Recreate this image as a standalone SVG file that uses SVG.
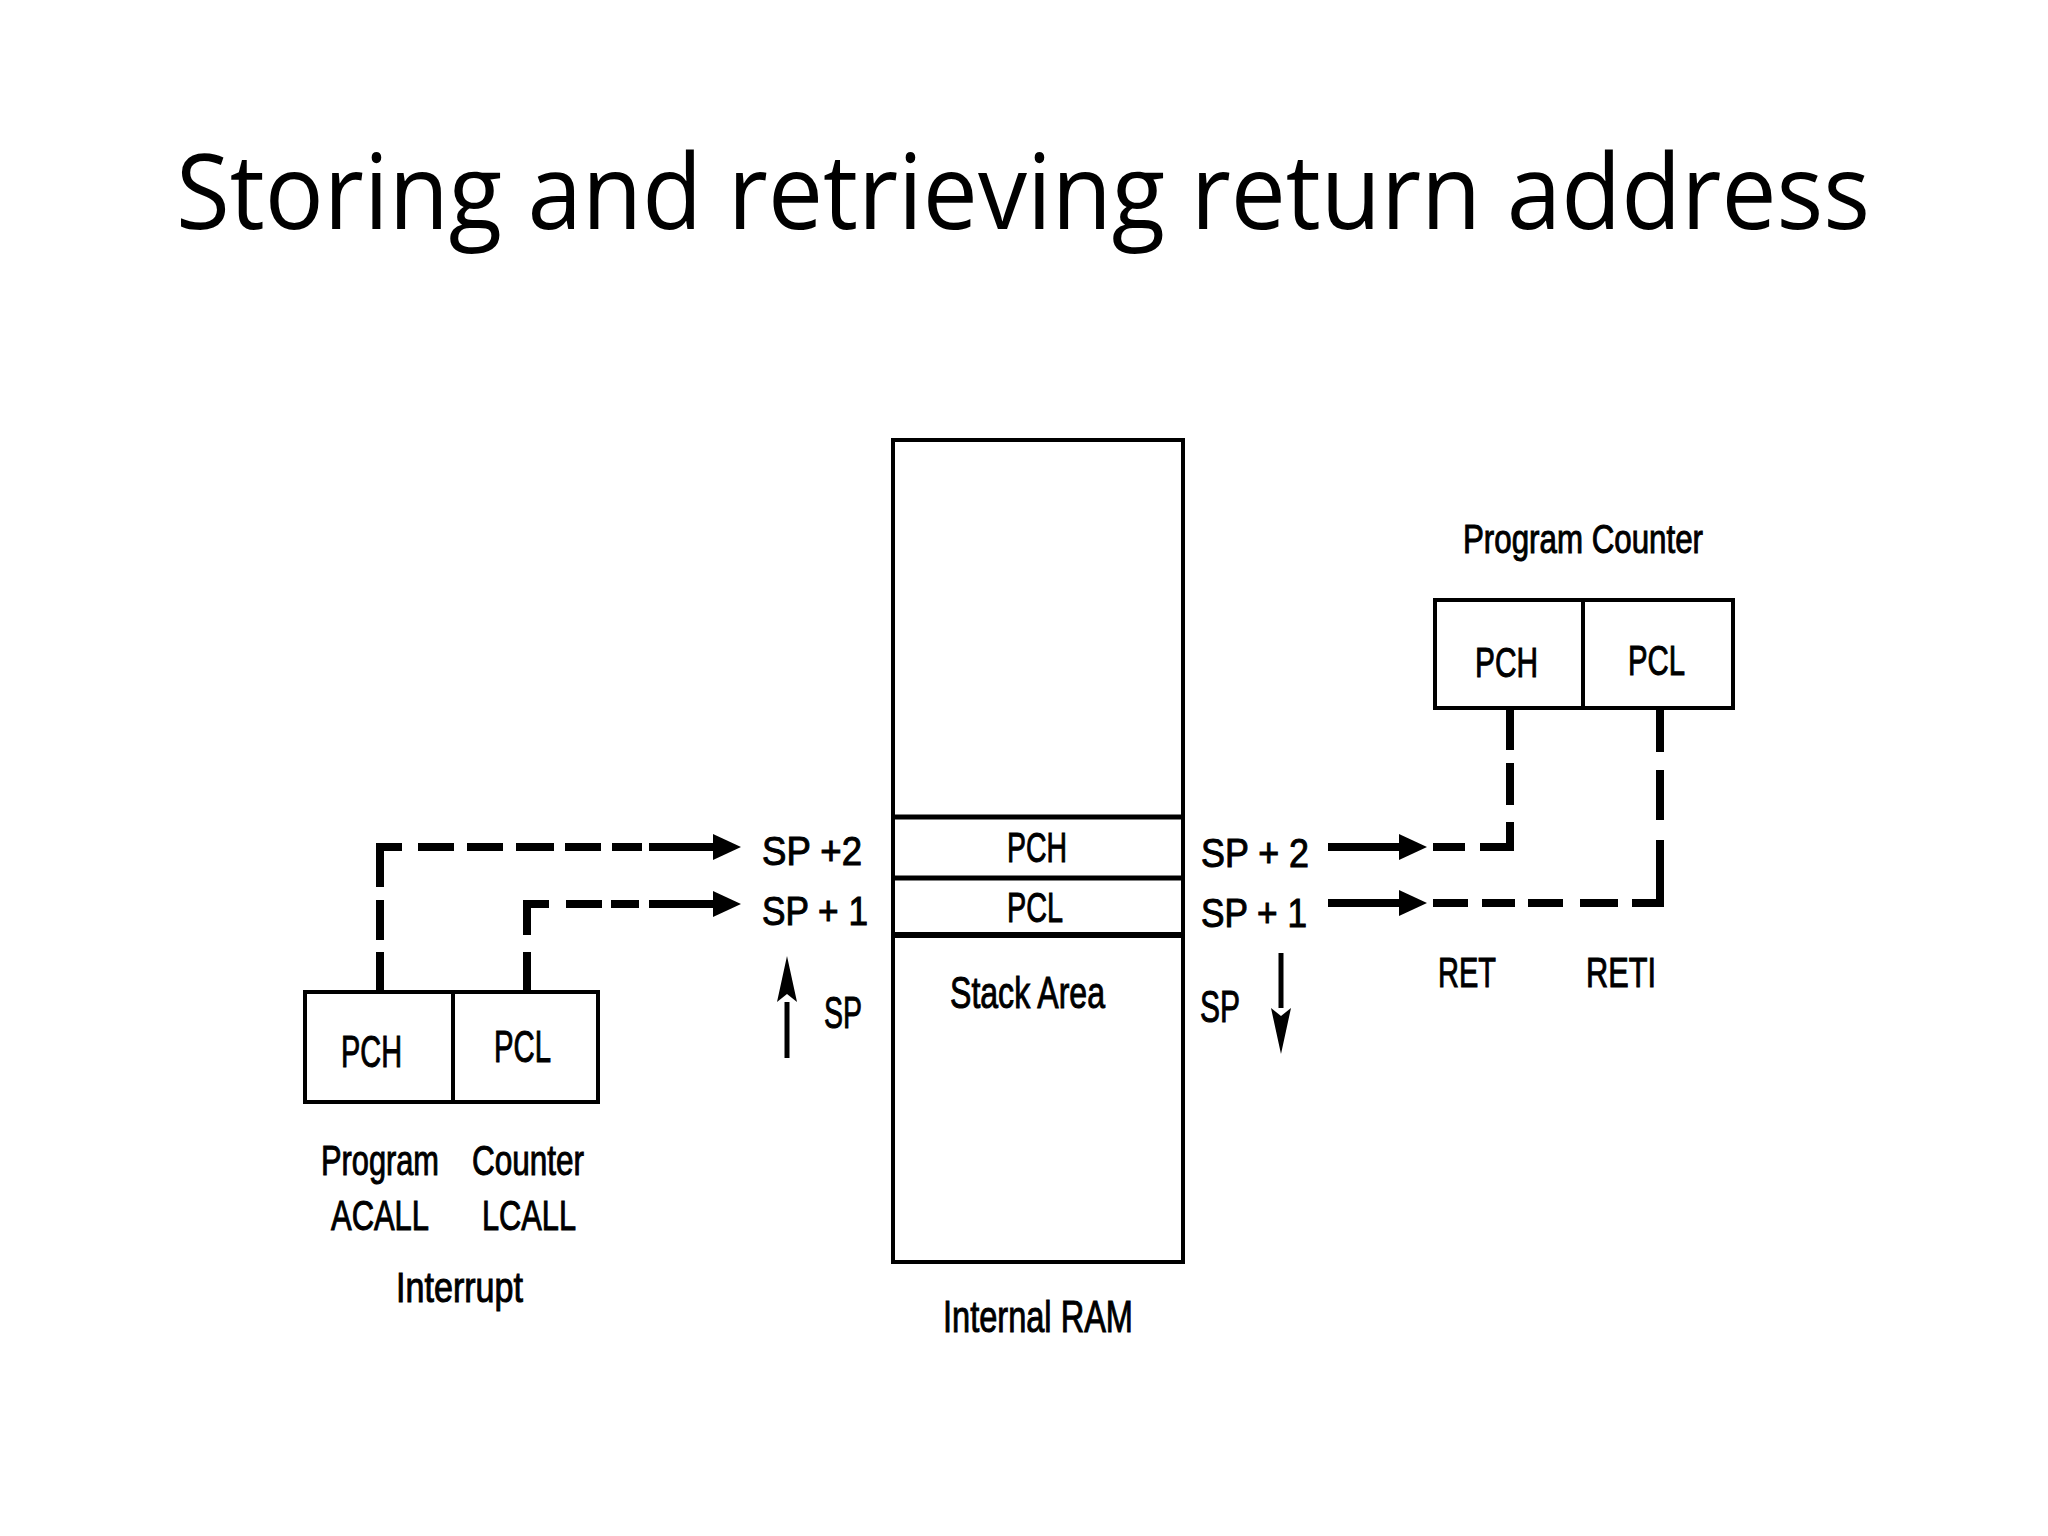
<svg xmlns="http://www.w3.org/2000/svg" width="2048" height="1536" viewBox="0 0 2048 1536">
<style>
.bg{fill:#fff}
.box{fill:#fff;stroke:#000;stroke-width:4}
.band{fill:none;stroke:#000;stroke-width:5}
.lbl{font-family:"Liberation Sans",Arial,sans-serif;font-size:40px;fill:#000;stroke:#000;stroke-width:1}
.title{font-family:"Open Sans","Noto Sans",sans-serif;font-size:104px;fill:#000}
.dash{fill:none;stroke:#000;stroke-width:8;stroke-linecap:butt}
.solid{fill:none;stroke:#000;stroke-width:8}
.thin{fill:none;stroke:#000;stroke-width:5}
</style>
<defs>
<marker id="ah" markerUnits="userSpaceOnUse" viewBox="0 0 28 26" markerWidth="28" markerHeight="26" refX="0" refY="13" orient="auto">
<path d="M0,0 L28,13 L0,26 z" fill="#000"/>
</marker>
<marker id="ahs" markerUnits="userSpaceOnUse" viewBox="0 0 46 20" markerWidth="46" markerHeight="20" refX="0" refY="10" orient="auto">
<path d="M0,0 L46,10 L0,20 L8,10 z" fill="#000"/>
</marker>
</defs>
<rect class="bg" x="0" y="0" width="2048" height="1536"/>
<text class="title" x="1023" y="229" text-anchor="middle" textLength="1694" lengthAdjust="spacingAndGlyphs">Storing and retrieving return address</text>

<g id="internal-ram">
<rect class="box" x="893" y="440" width="290" height="822"/>
<line class="band" x1="893" y1="817" x2="1183" y2="817"/>
<line class="band" x1="893" y1="878" x2="1183" y2="878"/>
<line class="band" x1="893" y1="935" x2="1183" y2="935" style="stroke-width:6"/>
<text class="lbl" x="1007" y="862" style="font-size:42px" textLength="60" lengthAdjust="spacingAndGlyphs">PCH</text>
<text class="lbl" x="1007" y="922" style="font-size:42px" textLength="56" lengthAdjust="spacingAndGlyphs">PCL</text>
<text class="lbl" x="950" y="1008" style="font-size:45px" textLength="155" lengthAdjust="spacingAndGlyphs">Stack Area</text>
<text class="lbl" x="943" y="1332" style="font-size:45px" textLength="190" lengthAdjust="spacingAndGlyphs">Internal RAM</text>
</g>

<g id="left-pc">
<rect class="box" x="305" y="992" width="293" height="110"/>
<line class="box" x1="453" y1="992" x2="453" y2="1102"/>
<text class="lbl" x="341" y="1067" style="font-size:44px" textLength="61" lengthAdjust="spacingAndGlyphs">PCH</text>
<text class="lbl" x="494" y="1062" style="font-size:44px" textLength="57" lengthAdjust="spacingAndGlyphs">PCL</text>
<text class="lbl" x="321" y="1175" style="font-size:42px" textLength="118" lengthAdjust="spacingAndGlyphs">Program</text>
<text class="lbl" x="472" y="1175" style="font-size:42px" textLength="112" lengthAdjust="spacingAndGlyphs">Counter</text>
<text class="lbl" x="331" y="1230" style="font-size:42px" textLength="98" lengthAdjust="spacingAndGlyphs">ACALL</text>
<text class="lbl" x="482" y="1230" style="font-size:42px" textLength="94" lengthAdjust="spacingAndGlyphs">LCALL</text>
<text class="lbl" x="396" y="1302" style="font-size:42px" textLength="127" lengthAdjust="spacingAndGlyphs">Interrupt</text>
</g>

<g id="right-pc">
<text class="lbl" x="1463" y="553" style="font-size:40px" textLength="240" lengthAdjust="spacingAndGlyphs">Program Counter</text>
<rect class="box" x="1435" y="600" width="298" height="108"/>
<line class="box" x1="1583" y1="600" x2="1583" y2="708"/>
<text class="lbl" x="1475" y="677" style="font-size:42px" textLength="63" lengthAdjust="spacingAndGlyphs">PCH</text>
<text class="lbl" x="1628" y="675" style="font-size:42px" textLength="57" lengthAdjust="spacingAndGlyphs">PCL</text>
</g>

<g id="sp-labels">
<text class="lbl" x="762" y="865" textLength="100" lengthAdjust="spacingAndGlyphs">SP +2</text>
<text class="lbl" x="762" y="925" textLength="106" lengthAdjust="spacingAndGlyphs">SP + 1</text>
<text class="lbl" x="824" y="1028" style="font-size:45px" textLength="38" lengthAdjust="spacingAndGlyphs">SP</text>
<text class="lbl" x="1201" y="867" textLength="108" lengthAdjust="spacingAndGlyphs">SP + 2</text>
<text class="lbl" x="1201" y="927" textLength="106" lengthAdjust="spacingAndGlyphs">SP + 1</text>
<text class="lbl" x="1200" y="1022" style="font-size:45px" textLength="40" lengthAdjust="spacingAndGlyphs">SP</text>
<text class="lbl" x="1438" y="987" style="font-size:42px" textLength="58" lengthAdjust="spacingAndGlyphs">RET</text>
<text class="lbl" x="1586" y="987" style="font-size:42px" textLength="70" lengthAdjust="spacingAndGlyphs">RETI</text>
</g>

<g id="connectors">
<path class="dash" d="M380,992 V847 H651" stroke-dasharray="40 12 40 13 62 16 36 13 36 13 38 11 36 11 30 12"/>
<path class="solid" d="M649,847 H713" marker-end="url(#ah)"/>
<path class="dash" d="M527,992 V904 H651" stroke-dasharray="40 17 53 17 36 9 28 12"/>
<path class="solid" d="M649,904 H713" marker-end="url(#ah)"/>
<path class="thin" d="M787,1058 V1002" marker-end="url(#ahs)"/>
<path class="thin" d="M1281,953 V1008" marker-end="url(#ahs)"/>
<path class="solid" d="M1328,847 H1399" marker-end="url(#ah)"/>
<path class="solid" d="M1328,903 H1399" marker-end="url(#ah)"/>
<path class="dash" d="M1510,708 V847 H1433" stroke-dasharray="42 13 42 17 55 15 32"/>
<path class="dash" d="M1660,708 V903 H1433" stroke-dasharray="44 18 50 20 91 14 38 17 35 13 33 14 35"/>
</g>
</svg>
